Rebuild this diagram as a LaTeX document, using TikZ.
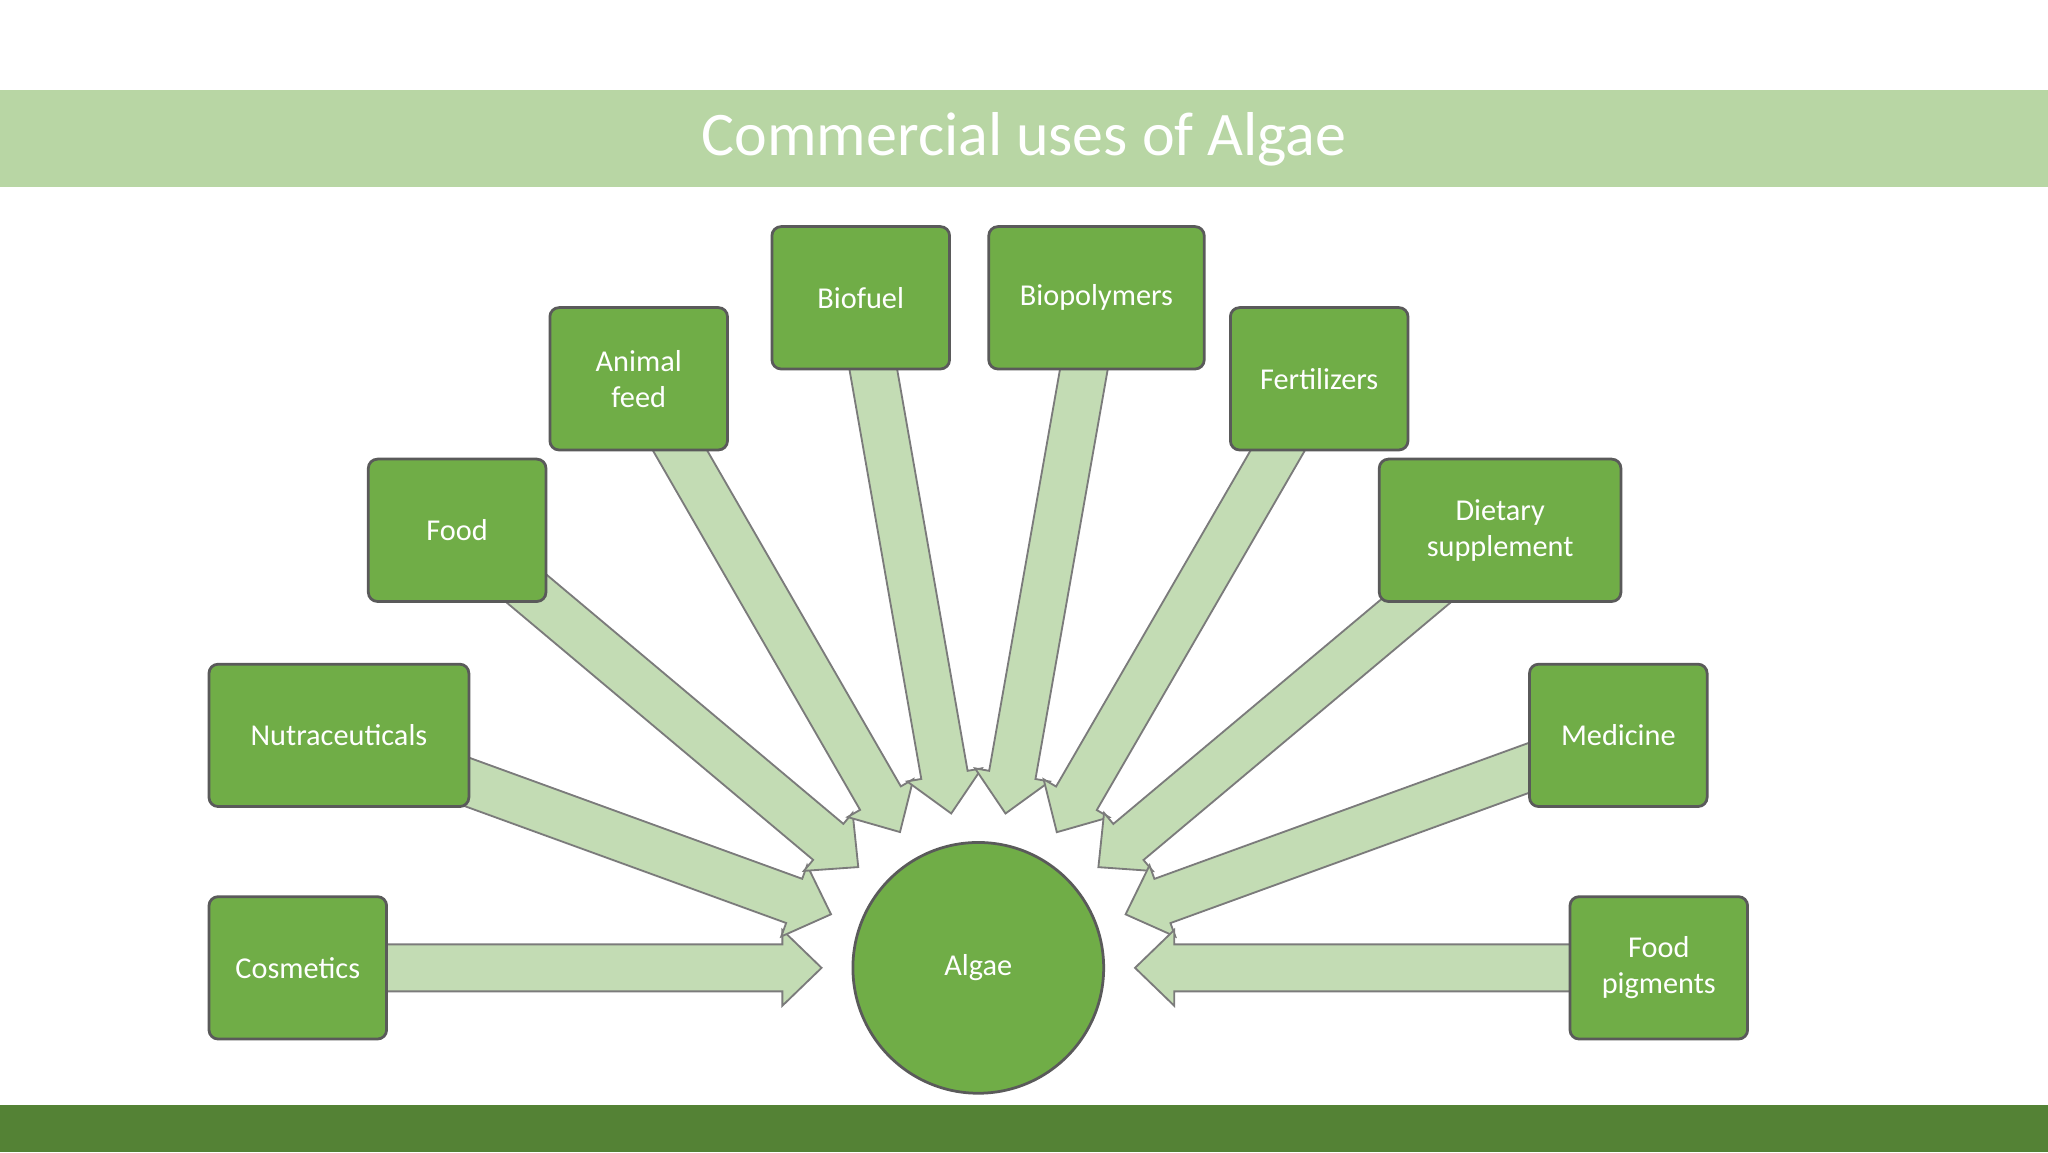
\documentclass[tikz,border=0pt]{standalone}
\usepackage{fontspec}
\setmainfont{Carlito}
\usetikzlibrary{calc}
\definecolor{band}{HTML}{B8D6A4}
\definecolor{dark}{HTML}{548235}
\definecolor{boxg}{HTML}{70AD47}
\definecolor{arf}{HTML}{C3DCB4}
\definecolor{bord}{HTML}{5A5A5A}
\tikzset{
 box/.style={draw=bord,line width=0.6pt,fill=boxg,rounded corners=0.07cm,text=white,
   font=\fontsize{6.6}{7.8}\selectfont,align=center,minimum height=1.09cm,inner sep=1pt},
 arr/.style={draw=bord!80,line width=0.4pt,fill=arf,line join=miter}
}
\newcommand\barrow[1]{%
 \path[arr] let \p1=($(#1)-(alg)$), \n1={atan2(\y1,\x1)}, \n2={veclen(\x1,\y1)} in
  [shift={(alg)},rotate=\n1] (\n2,0.18) -- (1.50,0.18) -- (1.50,0.29) -- (1.20,0) -- (1.50,-0.29) -- (1.50,-0.18) -- (\n2,-0.18) -- cycle;}
\begin{document}
\begin{tikzpicture}
\useasboundingbox (0,0) rectangle (15.68,8.82);
\fill[white] (0,0) rectangle (15.68,8.82);
\fill[band] (0,8.13) rectangle (15.68,7.39);
\node[text=white,font=\fontsize{13.5}{16}\selectfont] (title) at (7.84,7.75) {Commercial uses of Algae};
\fill[dark] (0,0) rectangle (15.68,0.36);
\coordinate (alg) at (7.49,1.41);
\coordinate (c1) at (2.28,1.41);
\coordinate (c2) at (2.595,3.19);
\coordinate (c3) at (3.50,4.76);
\coordinate (c4) at (4.89,5.92);
\coordinate (c5) at (6.59,6.54);
\coordinate (c6) at (8.395,6.54);
\coordinate (c7) at (10.10,5.92);
\coordinate (c8) at (11.485,4.76);
\coordinate (c9) at (12.39,3.19);
\coordinate (c10) at (12.70,1.41);
\foreach \c in {c1,c2,c3,c4,c5,c6,c7,c8,c9,c10} {\barrow{\c}}
\node[box,minimum width=1.36cm] (n1) at (c1) {Cosmetics};
\node[box,minimum width=1.99cm] (n2) at (c2) {Nutraceuticals};
\node[box,minimum width=1.36cm] (n3) at (c3) {Food};
\node[box,minimum width=1.36cm] (n4) at (c4) {Animal\\feed};
\node[box,minimum width=1.36cm] (n5) at (c5) {Biofuel};
\node[box,minimum width=1.65cm] (n6) at (c6) {Biopolymers};
\node[box,minimum width=1.36cm] (n7) at (c7) {Fertilizers};
\node[box,minimum width=1.85cm] (n8) at (c8) {Dietary\\supplement};
\node[box,minimum width=1.36cm] (n9) at (c9) {Medicine};
\node[box,minimum width=1.36cm] (n10) at (c10) {Food\\pigments};
\node[circle,draw=bord,line width=0.6pt,fill=boxg,minimum size=1.92cm,text=white,
  font=\fontsize{6.6}{7.8}\selectfont] (a) at (alg) {Algae};
\end{tikzpicture}
\end{document}
